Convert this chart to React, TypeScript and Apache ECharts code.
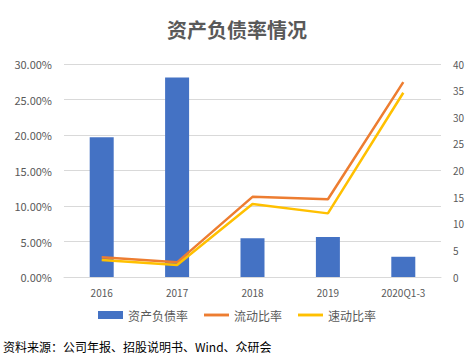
import React, { useEffect, useRef } from "react";
import * as echarts from "echarts";

const categories = ["2016", "2017", "2018", "2019", "2020Q1-3"];
const debtRatio = [19.7, 28.1, 5.45, 5.65, 2.85];
const currentRatio = [3.7, 2.75, 15.05, 14.6, 36.6];
const quickRatio = [3.2, 2.25, 13.7, 11.95, 34.6];

const FONT = "'Noto Sans CJK SC', 'Noto Sans', sans-serif";
const LINE_ICON = "path://M0,0 L26,0 L26,3 L0,3 Z";

export default function App() {
  const ref = useRef<HTMLDivElement>(null);
  useEffect(() => {
    const chart = echarts.init(ref.current!, undefined, { renderer: "svg" });
    chart.setOption({
      animation: false,
      backgroundColor: "#ffffff",
      textStyle: { fontFamily: FONT },
      title: {
        text: "资产负债率情况",
        left: "center",
        top: 14,
        textStyle: { fontSize: 20, fontWeight: "bold", color: "#595959", fontFamily: FONT },
      },
      grid: { left: 64, right: 33, top: 64, bottom: 84 },
      legend: {
        bottom: 35,
        left: "center",
        itemWidth: 25,
        itemHeight: 8,
        itemGap: 16,
        symbolKeepAspect: true,
        textStyle: { fontSize: 12, color: "#595959", fontFamily: FONT },
        data: [
          { name: "资产负债率", icon: "rect" },
          { name: "流动比率", icon: LINE_ICON },
          { name: "速动比率", icon: LINE_ICON },
        ],
      },
      xAxis: {
        type: "category",
        data: categories,
        axisLine: { lineStyle: { color: "#d9d9d9" } },
        axisTick: { show: false },
        axisLabel: { color: "#595959", fontSize: 10, margin: 10 },
      },
      yAxis: [
        {
          type: "value",
          min: 0,
          max: 30,
          interval: 5,
          axisLabel: {
            color: "#595959",
            fontSize: 11,
            margin: 12,
            formatter: (v: number) => v.toFixed(2) + "%",
          },
          axisLine: { show: false },
          axisTick: { show: false },
          splitLine: { lineStyle: { color: "#d9d9d9" } },
        },
        {
          type: "value",
          min: 0,
          max: 40,
          interval: 5,
          axisLabel: { color: "#595959", fontSize: 10, margin: 12 },
          axisLine: { show: false },
          axisTick: { show: false },
          splitLine: { show: false },
        },
      ],
      series: [
        {
          name: "资产负债率",
          type: "bar",
          data: debtRatio,
          barWidth: 24,
          itemStyle: { color: "#4472C4" },
        },
        {
          name: "流动比率",
          type: "line",
          yAxisIndex: 1,
          data: currentRatio,
          symbol: "none",
          lineStyle: { color: "#ED7D31", width: 2.5 },
          itemStyle: { color: "#ED7D31" },
        },
        {
          name: "速动比率",
          type: "line",
          yAxisIndex: 1,
          data: quickRatio,
          symbol: "none",
          lineStyle: { color: "#FFC000", width: 2.5 },
          itemStyle: { color: "#FFC000" },
        },
      ],
      graphic: [
        {
          type: "text",
          left: 3,
          top: 340,
          style: {
            text: "资料来源：公司年报、招股说明书、Wind、众研会",
            fontSize: 12,
            fill: "#000000",
            fontFamily: FONT,
          },
        },
      ],
    });
    return () => chart.dispose();
  }, []);
  return <div ref={ref} style={{ width: 474, height: 361, position: "absolute", left: 0, top: 0 }} />;
}
